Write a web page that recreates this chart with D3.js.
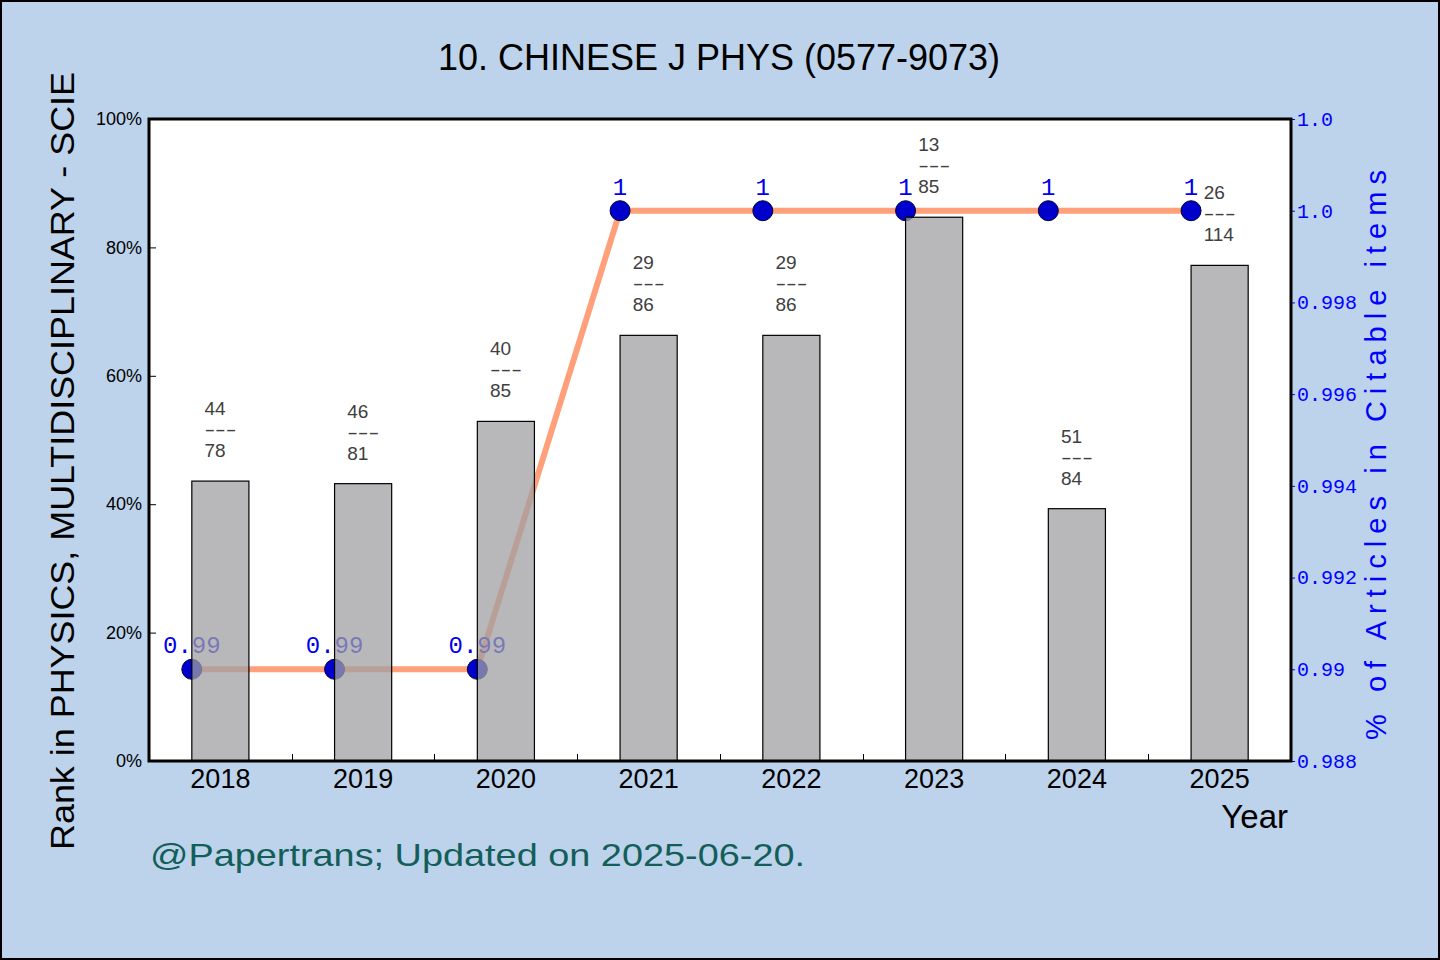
<!DOCTYPE html>
<html>
<head>
<meta charset="utf-8">
<script src="https://cdn.jsdelivr.net/npm/d3@7"></script>
<style>
  body { margin: 0; background: #bdd3ec; }
  svg { display: block; }
</style>
</head>
<body>
<svg id="chart" width="1440" height="960"></svg>
<script>
// données
var years = ["2018", "2019", "2020", "2021", "2022", "2023", "2024", "2025"];
var ranks = [44, 46, 40, 29, 29, 13, 51, 26];
var totals = [78, 81, 85, 86, 86, 85, 84, 114];
var rankPct = [43.6, 43.2, 52.9, 66.3, 66.3, 84.7, 39.3, 77.2];
var citable = [0.99, 0.99, 0.99, 1, 1, 1, 1, 1];
var citableLabels = ["0.99", "0.99", "0.99", "1", "1", "1", "1", "1"];
var leftTicks = [0, 20, 40, 60, 80, 100];
var rightTicks = [0.988, 0.99, 0.992, 0.994, 0.996, 0.998, 1.0, 1.002];
var rightTickLabels = ["0.988", "0.99", "0.992", "0.994", "0.996", "0.998", "1.0", "1.0"];

var W = 1440, H = 960;
var m = { left: 149, top: 119, right: 1291, bottom: 761 };

var svg = d3.select("#chart");

svg.append("rect")
  .attr("x", 1).attr("y", 1)
  .attr("width", W - 2).attr("height", H - 2)
  .attr("fill", "#bdd3ec")
  .attr("stroke", "#000").attr("stroke-width", 2);

svg.append("rect")
  .attr("x", m.left).attr("y", m.top)
  .attr("width", m.right - m.left).attr("height", m.bottom - m.top)
  .attr("fill", "#fff");

var x = d3.scaleBand().domain(years).range([m.left, m.right]).paddingInner(0.6).paddingOuter(0.3);
var yL = d3.scaleLinear().domain([0, 100]).range([m.bottom, m.top]);
var yR = d3.scaleLinear().domain([0.988, 1.002]).range([m.bottom, m.top]);

//ligne + points (dessinés sous les barres transparentes)
var pts = years.map((y, i) => ({ year: y, v: citable[i], lab: citableLabels[i] }));

svg.append("path")
  .datum(pts)
  .attr("fill", "none")
  .attr("stroke", "#ffa07a")
  .attr("stroke-width", 6)
  .attr("d", d3.line().x(d => x(d.year)).y(d => yR(d.v)));

svg.append("g")
  .selectAll("circle")
  .data(pts)
  .join("circle")
  .attr("cx", d => x(d.year))
  .attr("cy", d => yR(d.v))
  .attr("r", 10)
  .attr("fill", "#0000cd")
  .attr("stroke", "#000033")
  .attr("stroke-width", 1);

svg.append("g")
  .attr("font-family", "Liberation Mono, DejaVu Sans Mono, monospace")
  .attr("font-size", 24)
  .attr("fill", "#0000ee")
  .attr("text-anchor", "middle")
  .selectAll("text")
  .data(pts)
  .join("text")
  .attr("x", d => x(d.year))
  .attr("y", d => yR(d.v) - 16)
  .text(d => d.lab);

//barres
var bars = years.map((y, i) => ({ year: y, pct: rankPct[i], rank: ranks[i], total: totals[i] }));

svg.append("g")
  .selectAll("rect")
  .data(bars)
  .join("rect")
  .attr("x", d => x(d.year))
  .attr("y", d => yL(d.pct))
  .attr("width", x.bandwidth())
  .attr("height", d => yL(0) - yL(d.pct))
  .attr("fill", "rgb(160,160,163)")
  .attr("fill-opacity", 0.75)
  .attr("stroke", "#000")
  .attr("stroke-width", 1.2);

//étiquettes rang / total
var lab = svg.append("g")
  .attr("font-family", "Liberation Sans, Arial, sans-serif")
  .attr("font-size", 19)
  .attr("fill", "#404040")
  .selectAll("text")
  .data(bars)
  .join("text");

lab.each(function (d) {
  var t = d3.select(this);
  var top = yL(d.pct);
  var lines = [String(d.rank), "---", String(d.total)];
  var offs = [-66, -45, -24];
  lines.forEach((s, k) => {
    var ts = t.append("tspan").attr("y", top + offs[k]).text(s);
    if (k == 1) ts.attr("textLength", 32).attr("lengthAdjust", "spacingAndGlyphs");
  });
  var maxW = 32;
  t.selectAll("tspan").each(function () {
    maxW = Math.max(maxW, this.getComputedTextLength());
  });
  t.selectAll("tspan").attr("x", x(d.year) + x.bandwidth() / 2 - maxW / 2);
});

//ticks internes de l'axe x aux limites des bandes
var step = x.step();
svg.append("g")
  .selectAll("line")
  .data(years.slice(1))
  .join("line")
  .attr("x1", d => Math.round(x(d) - step * x.paddingOuter()) + 0.5)
  .attr("x2", d => Math.round(x(d) - step * x.paddingOuter()) + 0.5)
  .attr("y1", m.bottom)
  .attr("y2", m.bottom - 7)
  .attr("stroke", "#000");

//axe gauche
var axL = svg.append("g")
  .attr("transform", `translate(${m.left},0)`)
  .call(d3.axisLeft(yL).tickValues(leftTicks).tickFormat(d => d + "%").tickSize(-7).tickPadding(7));
axL.select(".domain").remove();
axL.selectAll("text")
  .attr("font-family", "Liberation Sans, Arial, sans-serif")
  .attr("font-size", 18)
  .attr("fill", "#000");

//axe droit
var axR = svg.append("g")
  .attr("transform", `translate(${m.right},0)`)
  .call(d3.axisRight(yR).tickValues(rightTicks).tickFormat((d, i) => rightTickLabels[i]).tickSize(4).tickPadding(2));
axR.select(".domain").remove();
axR.selectAll("line").attr("stroke", "#0000ff");
axR.selectAll("text")
  .attr("font-family", "Liberation Mono, DejaVu Sans Mono, monospace")
  .attr("font-size", 20)
  .attr("fill", "#0000ff");

//axe x
var axX = svg.append("g")
  .attr("transform", `translate(0,${m.bottom})`)
  .call(d3.axisBottom(x).tickSize(0).tickPadding(8));
axX.select(".domain").remove();
axX.selectAll("text")
  .attr("font-family", "Liberation Sans, Arial, sans-serif")
  .attr("font-size", 27)
  .attr("fill", "#000");

//cadre
svg.append("rect")
  .attr("x", m.left).attr("y", m.top)
  .attr("width", m.right - m.left).attr("height", m.bottom - m.top)
  .attr("fill", "none")
  .attr("stroke", "#000").attr("stroke-width", 3);

//titres
svg.append("text")
  .attr("x", 719).attr("y", 70)
  .attr("text-anchor", "middle")
  .attr("font-family", "Liberation Sans, Arial, sans-serif")
  .attr("font-size", 37)
  .attr("textLength", 562)
  .attr("lengthAdjust", "spacingAndGlyphs")
  .text("10. CHINESE J PHYS (0577-9073)");

svg.append("text")
  .attr("transform", "translate(74,461) rotate(-90)")
  .attr("text-anchor", "middle")
  .attr("font-family", "Liberation Sans, Arial, sans-serif")
  .attr("font-size", 34)
  .attr("textLength", 778)
  .attr("lengthAdjust", "spacingAndGlyphs")
  .text("Rank in PHYSICS, MULTIDISCIPLINARY - SCIE");

svg.append("text")
  .attr("transform", "translate(1386,455) rotate(-90)")
  .attr("text-anchor", "middle")
  .attr("font-family", "Liberation Sans, Arial, sans-serif")
  .attr("font-size", 29)
  .attr("fill", "#0000ff")
  .attr("textLength", 570)
  .attr("lengthAdjust", "spacing")
  .text("% of Articles in Citable items");

svg.append("text")
  .attr("x", 1288).attr("y", 828)
  .attr("text-anchor", "end")
  .attr("font-family", "Liberation Sans, Arial, sans-serif")
  .attr("font-size", 33)
  .text("Year");

svg.append("text")
  .attr("x", 150).attr("y", 866)
  .attr("font-family", "Liberation Sans, Arial, sans-serif")
  .attr("font-size", 32)
  .attr("fill", "#135e58")
  .attr("textLength", 655)
  .attr("lengthAdjust", "spacingAndGlyphs")
  .text("@Papertrans; Updated on 2025-06-20.");
</script>
</body>
</html>
